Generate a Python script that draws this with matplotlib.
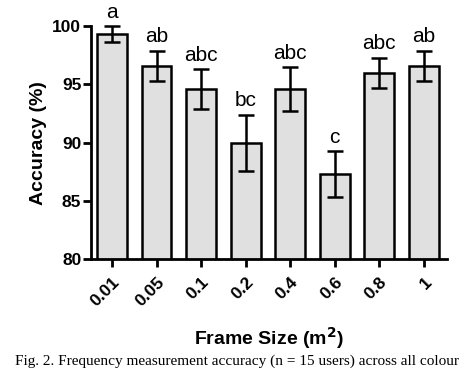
import matplotlib
matplotlib.use("Agg")
import matplotlib.pyplot as plt
import numpy as np

# data
sizes = ["0.01", "0.05", "0.1", "0.2", "0.4", "0.6", "0.8", "1"]
accuracy = [99.3, 96.6, 94.6, 90.0, 94.6, 87.3, 96.0, 96.6]
sem = [0.7, 1.3, 1.7, 2.4, 1.9, 2.0, 1.3, 1.3]
groups = ["a", "ab", "abc", "bc", "abc", "c", "abc", "ab"]

plt.rcParams["font.family"] = ["Liberation Sans", "DejaVu Sans"]

fig = plt.figure(figsize=(4.74, 3.68), dpi=100)
ax = fig.add_axes([0.192, 0.296, 0.751, 0.633])

x = np.arange(len(sizes))
ax.bar(x, accuracy, width=0.67, color="#e0e0e0", edgecolor="black",
       linewidth=1.8, zorder=2)
ax.errorbar(x, accuracy, yerr=sem, fmt="none", ecolor="black",
            elinewidth=1.8, capsize=5.5, capthick=1.8, zorder=3, clip_on=False)

# significance letters above the error bars
for xi, yi, e, g in zip(x, accuracy, sem, groups):
    ax.annotate(g, (xi, yi + e), xytext=(0, 3), textcoords="offset points",
                ha="center", va="bottom", fontsize=15, annotation_clip=False)

ax.set_xlim(-0.47, 7.52)
ax.set_ylim(80, 100)
ax.set_yticks([80, 85, 90, 95, 100])
ax.set_xticks(x)
ax.set_xticklabels(sizes, rotation=45, ha="right", rotation_mode="anchor",
                   fontweight="bold", fontsize=12.5)
for lab in ax.get_yticklabels():
    lab.set_fontweight("bold")
    lab.set_fontsize(12.5)

for s in ["top", "right"]:
    ax.spines[s].set_visible(False)
for s in ["left", "bottom"]:
    ax.spines[s].set_linewidth(2)
ax.tick_params(width=2, length=6)
ax.tick_params(axis="y", pad=1)
ax.tick_params(axis="x", pad=5)

ax.set_ylabel("Accuracy (%)", fontweight="bold", fontsize=14, labelpad=4)
ax.set_xlabel("Frame Size (m$^\\mathbf{2}$)", fontweight="bold", fontsize=14,
              labelpad=12)

fig.text(0.5, 0.0,
         "Fig. 2. Frequency measurement accuracy (n = 15 users) across all colour",
         family="Liberation Serif", fontsize=11, ha="center", va="bottom")

fig.savefig("out.png", dpi=100)
